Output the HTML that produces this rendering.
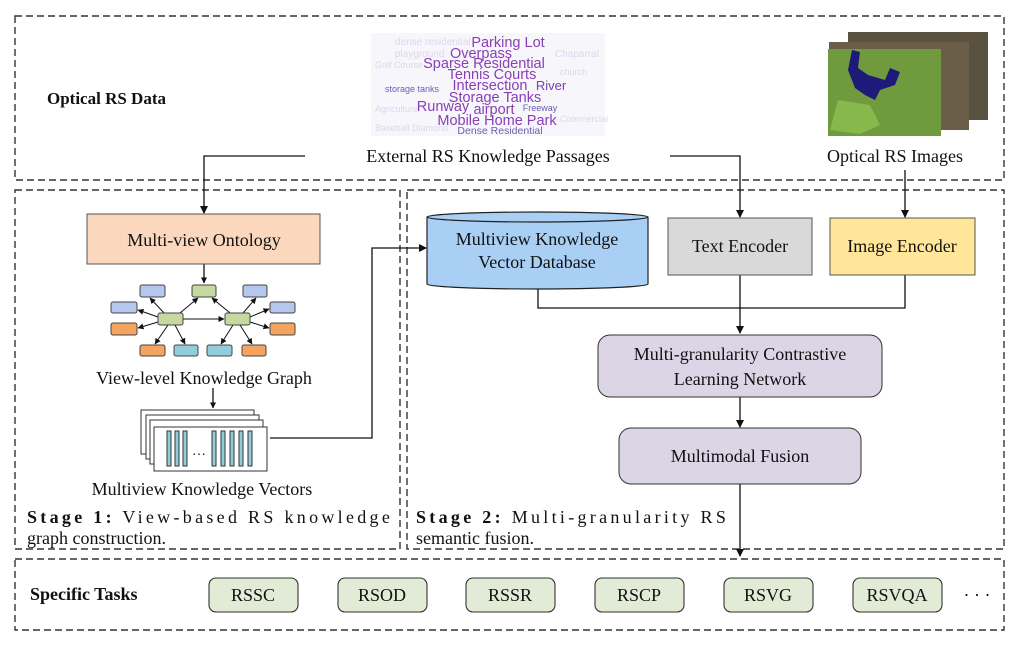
<!DOCTYPE html>
<html><head><meta charset="utf-8"><style>
html,body{margin:0;padding:0;background:#fff;}
svg{display:block;}
text{font-family:"Liberation Serif",serif;fill:#111;}
.s{font-family:"Liberation Sans",sans-serif;}
</style></head><body>
<svg width="1018" height="648" viewBox="0 0 1018 648" xmlns="http://www.w3.org/2000/svg">
<defs>
<marker id="a" markerWidth="8" markerHeight="8" refX="7" refY="4" orient="auto" markerUnits="userSpaceOnUse"><path d="M0,0 L8,4 L0,8 z" fill="#111"/></marker>
<marker id="b" markerWidth="6" markerHeight="6" refX="5.5" refY="3" orient="auto" markerUnits="userSpaceOnUse"><path d="M0,0 L6,3 L0,6 z" fill="#111"/></marker>
</defs>
<g fill="none" stroke="#333" stroke-width="1.4" stroke-dasharray="7,4">
<rect x="15" y="16" width="989" height="164"/>
<rect x="15" y="190" width="385" height="359"/>
<rect x="407" y="190" width="597" height="359"/>
<rect x="15" y="559" width="989" height="71"/>
</g>
<text x="47" y="104" font-size="17" font-weight="bold">Optical RS Data</text>
<!-- word cloud -->
<rect x="371" y="33" width="234" height="103" fill="#f7f6fb"/>
<text x="395" y="45" class="s" style="fill:#ddd7ec" font-size="10">dense residential</text>
<text x="395" y="57" class="s" style="fill:#ddd7ec" font-size="10">playground</text>
<text x="375" y="68" class="s" style="fill:#ddd7ec" font-size="9">Golf Course</text>
<text x="555" y="57" class="s" style="fill:#ddd7ec" font-size="10">Chaparral</text>
<text x="560" y="75" class="s" style="fill:#ddd7ec" font-size="9">church</text>
<text x="375" y="112" class="s" style="fill:#ddd7ec" font-size="9">Agriculture</text>
<text x="375" y="131" class="s" style="fill:#ddd7ec" font-size="9">Baseball Diamond</text>
<text x="560" y="122" class="s" style="fill:#ddd7ec" font-size="9">Commercial</text>
<g>
<text x="508" y="47" text-anchor="middle" class="s" font-size="14.5" style="fill:#8a3fb5">Parking Lot</text>
<text x="481" y="58" text-anchor="middle" class="s" font-size="14.5" style="fill:#8a3fb5">Overpass</text>
<text x="484" y="68" text-anchor="middle" class="s" font-size="14.5" style="fill:#8a3fb5">Sparse Residential</text>
<text x="492" y="79" text-anchor="middle" class="s" font-size="14.5" style="fill:#8a3fb5">Tennis Courts</text>
<text x="490" y="90" text-anchor="middle" class="s" font-size="14.5" style="fill:#8a3fb5">Intersection</text>
<text x="551" y="90" text-anchor="middle" class="s" font-size="13" style="fill:#7a3fb0">River</text>
<text x="412" y="92" text-anchor="middle" class="s" font-size="9" style="fill:#6a5fb0">storage tanks</text>
<text x="495" y="102" text-anchor="middle" class="s" font-size="14.5" style="fill:#8a3fb5">Storage Tanks</text>
<text x="443" y="111" text-anchor="middle" class="s" font-size="14.5" style="fill:#8a3fb5">Runway</text>
<text x="494" y="114" text-anchor="middle" class="s" font-size="14.5" style="fill:#8a3fb5">airport</text>
<text x="540" y="111" text-anchor="middle" class="s" font-size="9" style="fill:#6a5fb0">Freeway</text>
<text x="497" y="125" text-anchor="middle" class="s" font-size="14.5" style="fill:#8a3fb5">Mobile Home Park</text>
<text x="500" y="134" text-anchor="middle" class="s" font-size="10.5" style="fill:#6a5fb0">Dense Residential</text>
</g>
<!-- satellite images -->
<rect x="848" y="32" width="140" height="88" fill="#5a5240"/>
<rect x="829" y="42" width="140" height="88" fill="#6a5e48"/>
<rect x="828" y="49" width="113" height="87" fill="#6f9a3e"/>
<path d="M852,50 L860,52 L858,68 L868,75 L885,80 L890,68 L900,72 L895,85 L880,90 L875,100 L865,95 L855,88 L848,70 z" fill="#1d1a7a"/>
<path d="M838,100 L870,105 L880,125 L860,134 L830,130 z" fill="#86b84c"/>
<!-- top texts -->
<text x="488" y="162" text-anchor="middle" font-size="18">External RS Knowledge Passages</text>
<text x="895" y="162" text-anchor="middle" font-size="18">Optical RS Images</text>
<g stroke="#111" stroke-width="1.3" fill="none">
<path d="M305,156 H204 V213" marker-end="url(#a)"/>
<path d="M670,156 H740 V217" marker-end="url(#a)"/>
<path d="M905,170 V217" marker-end="url(#a)"/>
<path d="M538,288 V308 H905 V275"/>
<path d="M740,275 V333" marker-end="url(#a)"/>
<path d="M740,397 V427" marker-end="url(#a)"/>
<path d="M740,484 V556" marker-end="url(#a)"/>
<path d="M270,438 H372 V248 H426" marker-end="url(#a)"/>
<path d="M204,264 V283" marker-end="url(#b)"/>
<path d="M213,388 V408" marker-end="url(#b)"/>
</g>
<!-- stage 1 -->
<rect x="87" y="214" width="233" height="50" fill="#fad7bd" stroke="#555"/>
<text x="204" y="246" text-anchor="middle" font-size="18">Multi-view Ontology</text>
<g stroke="#111" stroke-width="1" fill="none">
<path d="M165,314 L150,298" marker-end="url(#b)"/><path d="M158,317 L138,310" marker-end="url(#b)"/><path d="M158,322 L138,328" marker-end="url(#b)"/>
<path d="M168,325 L155,344" marker-end="url(#b)"/><path d="M175,325 L185,344" marker-end="url(#b)"/>
<path d="M180,313 L198,298" marker-end="url(#b)"/><path d="M183,319 L224,319" marker-end="url(#b)"/>
<path d="M230,313 L212,298" marker-end="url(#b)"/><path d="M243,313 L256,298" marker-end="url(#b)"/>
<path d="M250,317 L269,309" marker-end="url(#b)"/><path d="M250,322 L269,328" marker-end="url(#b)"/>
<path d="M233,325 L221,344" marker-end="url(#b)"/><path d="M240,325 L252,344" marker-end="url(#b)"/>
</g>
<g stroke="#444" stroke-width="1">
<rect x="192" y="285" width="24" height="12" rx="2" fill="#c6d9a0"/>
<rect x="158" y="313" width="25" height="12" rx="2" fill="#c6d9a0"/>
<rect x="225" y="313" width="25" height="12" rx="2" fill="#c6d9a0"/>
<rect x="140" y="285" width="25" height="12" rx="2" fill="#b4c7ec"/>
<rect x="111" y="302" width="26" height="11" rx="2" fill="#b4c7ec"/>
<rect x="243" y="285" width="24" height="12" rx="2" fill="#b4c7ec"/>
<rect x="270" y="302" width="25" height="11" rx="2" fill="#b4c7ec"/>
<rect x="111" y="323" width="26" height="12" rx="2" fill="#f4a460"/>
<rect x="270" y="323" width="25" height="12" rx="2" fill="#f4a460"/>
<rect x="140" y="345" width="25" height="11" rx="2" fill="#f4a460"/>
<rect x="242" y="345" width="24" height="11" rx="2" fill="#f4a460"/>
<rect x="174" y="345" width="24" height="11" rx="2" fill="#92cddc"/>
<rect x="207" y="345" width="25" height="11" rx="2" fill="#92cddc"/>
</g>
<text x="204" y="384" text-anchor="middle" font-size="18">View-level Knowledge Graph</text>
<g stroke="#333" stroke-width="1">
<rect x="141" y="410" width="113" height="44" fill="#fff"/>
<rect x="146" y="415" width="113" height="44" fill="#fff"/>
<rect x="150" y="420" width="113" height="44" fill="#fff"/>
<rect x="154" y="427" width="113" height="44" fill="#fff"/>
<g fill="#92cddc">
<rect x="167" y="431" width="4" height="35"/><rect x="175" y="431" width="4" height="35"/><rect x="183" y="431" width="4" height="35"/>
<rect x="212" y="431" width="4" height="35"/><rect x="221" y="431" width="4" height="35"/><rect x="230" y="431" width="4" height="35"/><rect x="239" y="431" width="4" height="35"/><rect x="248" y="431" width="4" height="35"/>
</g>
</g>
<text x="199" y="455" text-anchor="middle" font-size="14">…</text>
<text x="202" y="495" text-anchor="middle" font-size="18">Multiview Knowledge Vectors</text>
<text x="27" y="523" font-size="18" letter-spacing="3.3"><tspan font-weight="bold">Stage 1:</tspan> View-based RS knowledge</text>
<text x="27" y="544" font-size="18">graph construction.</text>
<!-- stage 2 -->
<path d="M427,217 V284 A110.5,5 0 0 0 648,284 V217" fill="#a9cff5" stroke="#222" stroke-width="1.2"/>
<ellipse cx="537.5" cy="217" rx="110.5" ry="5" fill="#a9cff5" stroke="#222" stroke-width="1.2"/>
<text x="537" y="245" text-anchor="middle" font-size="18">Multiview Knowledge</text>
<text x="537" y="268" text-anchor="middle" font-size="18">Vector Database</text>
<rect x="668" y="218" width="144" height="57" fill="#d9d9d9" stroke="#555"/>
<text x="740" y="252" text-anchor="middle" font-size="18">Text Encoder</text>
<rect x="830" y="218" width="145" height="57" fill="#ffe699" stroke="#555"/>
<text x="902" y="252" text-anchor="middle" font-size="18">Image Encoder</text>
<rect x="598" y="335" width="284" height="62" rx="12" fill="#dcd5e6" stroke="#333"/>
<text x="740" y="360" text-anchor="middle" font-size="18">Multi-granularity Contrastive</text>
<text x="740" y="385" text-anchor="middle" font-size="18">Learning Network</text>
<rect x="619" y="428" width="242" height="56" rx="12" fill="#dcd5e6" stroke="#333"/>
<text x="740" y="462" text-anchor="middle" font-size="18">Multimodal Fusion</text>
<text x="416" y="523" font-size="18" letter-spacing="3.3"><tspan font-weight="bold">Stage 2:</tspan>  Multi-granularity RS</text>
<text x="416" y="544" font-size="18">semantic fusion.</text>
<!-- tasks -->
<text x="30" y="600" font-size="18" font-weight="bold">Specific Tasks</text>
<g stroke="#333" stroke-width="1.1" fill="#e2ebd5">
<rect x="209" y="578" width="89" height="34" rx="7"/>
<rect x="338" y="578" width="89" height="34" rx="7"/>
<rect x="466" y="578" width="89" height="34" rx="7"/>
<rect x="595" y="578" width="89" height="34" rx="7"/>
<rect x="724" y="578" width="89" height="34" rx="7"/>
<rect x="853" y="578" width="89" height="34" rx="7"/>
</g>
<g font-size="18" text-anchor="middle">
<text x="253" y="601">RSSC</text><text x="382" y="601">RSOD</text><text x="510" y="601">RSSR</text>
<text x="639" y="601">RSCP</text><text x="768" y="601">RSVG</text><text x="897" y="601">RSVQA</text>
</g>
<text x="977" y="601" text-anchor="middle" font-size="18">· · ·</text>
</svg>
</body></html>
